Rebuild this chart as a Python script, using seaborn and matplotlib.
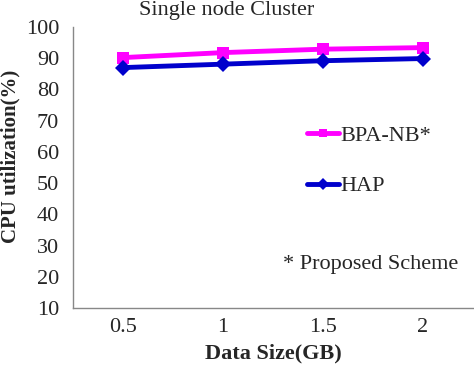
import numpy as np
import pandas as pd
import seaborn as sns
import matplotlib.pyplot as plt

sns.set_style("white")
plt.rcParams['font.family'] = ['Liberation Serif', 'DejaVu Serif']

sizes = ["0.5", "1", "1.5", "2"]
bpa_nb = [90.2, 91.8, 92.9, 93.4]
hap = [87.0, 88.1, 89.2, 89.9]

df = pd.DataFrame({
    "size": sizes * 2,
    "cpu": bpa_nb + hap,
    "scheme": ["BPA-NB*"] * 4 + ["HAP"] * 4,
})

fig = plt.figure(figsize=(4.74, 3.69), dpi=100)
ax = fig.add_axes([73 / 474, 61 / 369, 400 / 474, 281 / 369])

sns.lineplot(data=df, x="size", y="cpu", hue="scheme", style="scheme",
             palette={"BPA-NB*": "#ff00ff", "HAP": "#0000cc"},
             markers={"BPA-NB*": "s", "HAP": "D"}, dashes=False,
             linewidth=3.5, markersize=8, markeredgewidth=0, ax=ax, sort=False)

ax.set_xlim(-0.5, 3.5)
ax.set_ylim(10, 100)
ax.set_yticks(range(10, 101, 10))
ax.tick_params(axis="y", length=0, labelsize=16, pad=10)
ax.tick_params(axis="x", length=0, labelsize=16, pad=7)
for s in ["top", "right"]:
    ax.spines[s].set_visible(False)
for s in ["left", "bottom"]:
    ax.spines[s].set_color("#888888")
    ax.spines[s].set_linewidth(1)

ax.set_xlabel("Data Size(GB)", fontsize=16, fontweight="bold", labelpad=5)
ax.set_ylabel("")
fig.text(10 / 474, 1 - 156 / 369, "CPU utilization(%)", rotation=90,
         ha="center", va="center", fontsize=15, fontweight="bold")

leg = ax.legend(loc="upper left", bbox_to_anchor=(0.585, 0.65), frameon=False,
                fontsize=16, handlelength=1.45, handletextpad=0.05,
                labelspacing=1.35, borderaxespad=0, borderpad=0)
for h in leg.legend_handles:
    h.set_linewidth(3.5)
    h.set_markersize(6)

fig.text(227 / 474, 1 - 11 / 369, "Single node Cluster", ha="center", va="center",
         fontsize=16)
ax.text(0.525, 0.155, "* Proposed Scheme", transform=ax.transAxes, fontsize=16,
        va="center")

fig.savefig("out.png", dpi=100)
